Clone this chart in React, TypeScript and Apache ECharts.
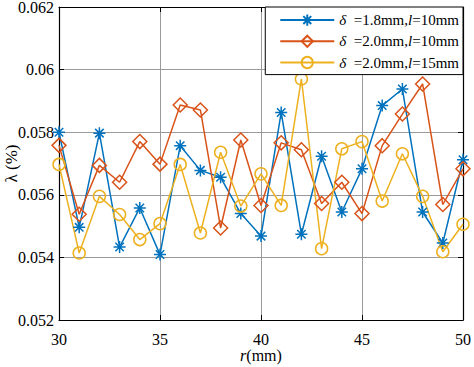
import React, { useEffect, useRef } from "react";
import * as echarts from "echarts";

const rValues = [30, 31, 32, 33, 34, 35, 36, 37, 38, 39, 40, 41, 42, 43, 44, 45, 46, 47, 48, 49, 50];
const series18_10 = [0.058, 0.05496, 0.05797, 0.05433, 0.05558, 0.05409, 0.05757, 0.05678, 0.05656, 0.0554, 0.05468, 0.05863, 0.05474, 0.05723, 0.05545, 0.05683, 0.05885, 0.05938, 0.05545, 0.05446, 0.05712];
const series20_10 = [0.05758, 0.05538, 0.05694, 0.0564, 0.0577, 0.05698, 0.05887, 0.05871, 0.05494, 0.05775, 0.05566, 0.05766, 0.05744, 0.05572, 0.0564, 0.0554, 0.05757, 0.05858, 0.05954, 0.05569, 0.05683];
const series20_15 = [0.05697, 0.05414, 0.05595, 0.05537, 0.05457, 0.05508, 0.05697, 0.05478, 0.05736, 0.05564, 0.05667, 0.05566, 0.0597, 0.05428, 0.05747, 0.0577, 0.0558, 0.05731, 0.05595, 0.05418, 0.05506];
const seriesNames = ["s1", "s2", "s3"];
const legendLabels: Record<string, string> = {
  s1: "{i|δ}  =1.8mm,{i|l}=10mm",
  s2: "{i|δ}  =2.0mm,{i|l}=10mm",
  s3: "{i|δ}  =2.0mm,{i|l}=15mm",
};
const xTicks = { min: 30, max: 50, interval: 5 };
const yTicks = { min: 0.052, max: 0.062, interval: 0.002 };

const FONT = "'Liberation Serif', 'Times New Roman', serif";
const asterisk = "path://M0 -10 L0 10 M-10 0 L10 0 M-7.07 -7.07 L7.07 7.07 M-7.07 7.07 L7.07 -7.07";

export default function App() {
  const ref = useRef<HTMLDivElement>(null);
  useEffect(() => {
    if (!ref.current) return;
    const chart = echarts.init(ref.current, undefined, { renderer: "svg" });
    const toPairs = (vals: number[]) => rValues.map((r, i) => [r, vals[i]]);
    const mk = (name: string, vals: number[], color: string, symbol: string, size: number) => ({
      name,
      type: "line",
      data: toPairs(vals),
      symbol,
      symbolSize: size,
      showSymbol: true,
      lineStyle: { color, width: 1.5 },
      itemStyle: { color: "none", borderColor: color, borderWidth: 1.5 },
      emphasis: { disabled: true },
      z: 3,
    });
    const axisLine = { show: true, lineStyle: { color: "#000", width: 1.2 } };
    chart.setOption({
      animation: false,
      backgroundColor: "#fff",
      textStyle: { fontFamily: FONT },
      grid: { left: 59, right: 11, top: 7, bottom: 47, containLabel: false, outerBoundsMode: "none" },
      legend: {
        data: seriesNames,
        right: 11,
        top: 7,
        orient: "vertical",
        backgroundColor: "#fff",
        borderColor: "#000",
        borderWidth: 1,
        padding: [5, 4, 4, 14],
        itemWidth: 54,
        itemHeight: 14,
        itemGap: 5,
        formatter: (n: string) => legendLabels[n],
        textStyle: {
          fontFamily: FONT,
          fontSize: 15,
          color: "#000",
          rich: {
            i: { fontFamily: FONT, fontSize: 15, fontStyle: "italic", color: "#000" },
          },
        },
      },
      xAxis: [
        {
          type: "value",
          min: xTicks.min,
          max: xTicks.max,
          interval: xTicks.interval,
          name: "{i|r}(mm)",
          nameLocation: "middle",
          nameGap: 27,
          nameMoveOverlap: false,
          nameTextStyle: {
            fontFamily: FONT,
            fontSize: 16,
            color: "#000",
            rich: { i: { fontFamily: FONT, fontSize: 16, fontStyle: "italic", color: "#000" } },
          },
          axisLine,
          axisTick: { show: true, inside: true, length: 5, lineStyle: { color: "#000" } },
          axisLabel: { fontFamily: FONT, fontSize: 16, color: "#000", margin: 11 },
          splitLine: { show: true, lineStyle: { color: "#9a9a9a", width: 1 } },
        },
        {
          type: "value",
          position: "top",
          min: xTicks.min,
          max: xTicks.max,
          interval: xTicks.interval,
          axisLine,
          axisTick: { show: true, inside: true, length: 5, lineStyle: { color: "#000" } },
          axisLabel: { show: false },
          splitLine: { show: false },
        },
      ],
      yAxis: [
        {
          type: "value",
          min: yTicks.min,
          max: yTicks.max,
          interval: yTicks.interval,
          name: "λ (%)",
          nameLocation: "middle",
          nameGap: 39,
          nameMoveOverlap: false,
          nameTextStyle: { fontFamily: FONT, fontSize: 17, color: "#000" },
          axisLine,
          axisTick: { show: true, inside: true, length: 5, lineStyle: { color: "#000" } },
          axisLabel: { fontFamily: FONT, fontSize: 16, color: "#000", margin: 5 },
          splitLine: { show: true, lineStyle: { color: "#9a9a9a", width: 1 } },
        },
        {
          type: "value",
          position: "right",
          min: yTicks.min,
          max: yTicks.max,
          interval: yTicks.interval,
          axisLine,
          axisTick: { show: true, inside: true, length: 5, lineStyle: { color: "#000" } },
          axisLabel: { show: false },
          splitLine: { show: false },
        },
      ],
      series: [
        mk("s1", series18_10, "#0072BD", asterisk, 12),
        mk("s2", series20_10, "#D95319", "diamond", 14),
        mk("s3", series20_15, "#EDB120", "circle", 12),
      ],
    });
    return () => chart.dispose();
  }, []);
  return <div ref={ref} style={{ width: 474, height: 367, position: "absolute", left: 0, top: 0 }} />;
}
